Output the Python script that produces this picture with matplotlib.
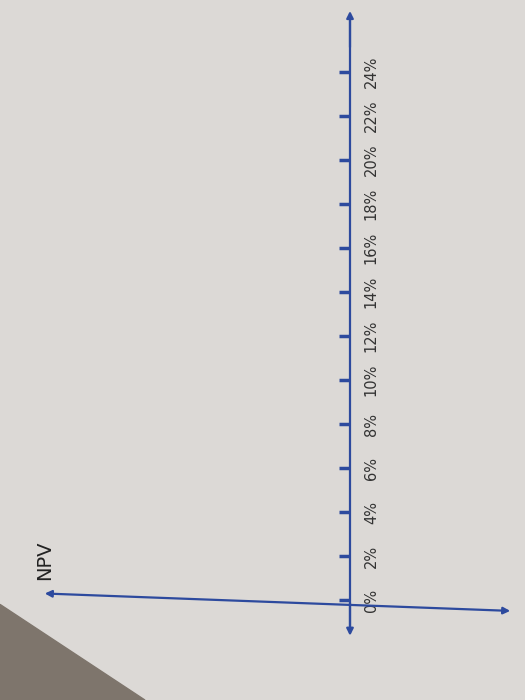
import matplotlib
matplotlib.use("Agg")
import matplotlib.pyplot as plt

rates = [0, 2, 4, 6, 8, 10, 12, 14, 16, 18, 20, 22, 24]
rate_labels = [f"{r}%" for r in rates]
axis_label = "NPV"

blue = "#2d4a9e"
fig = plt.figure(figsize=(5.25, 7), dpi=100)
fig.patch.set_facecolor("#dad7d4")
ax = fig.add_axes([0, 0, 1, 1])
ax.set_facecolor("#dcd9d6")
ax.set_xlim(350, -175)
ax.set_ylim(-100 / 22, 600 / 22)

# paper edge / table in lower-left corner
ax.fill([350, 350, 205, 260], [-4.55, -0.2, -4.55, -4.55], color="#7e756c", zorder=0)

for s in ["top", "bottom", "left"]:
    ax.spines[s].set_visible(False)
ax.spines["right"].set_position(("data", 0))
ax.spines["right"].set_bounds(-1.45, 26.3)
ax.spines["right"].set_color(blue)
ax.spines["right"].set_linewidth(1.6)
ax.yaxis.tick_right()
ax.set_yticks(rates)
ax.set_yticklabels(rate_labels, rotation=90, va="center", fontsize=10.5, color="#333333")
ax.tick_params(axis="y", direction="in", length=8, width=2.5, color=blue, pad=10)
ax.set_xticks([])

# arrows
ax.annotate("", xy=(0, 26.9), xytext=(0, 25), arrowprops=dict(arrowstyle="-|>", color=blue, lw=1.6, mutation_scale=10))
ax.annotate("", xy=(0, -1.75), xytext=(0, 0), arrowprops=dict(arrowstyle="-|>", color=blue, lw=1.6, mutation_scale=10))
ax.annotate("", xy=(308, 0.3), xytext=(-163, -0.5), arrowprops=dict(arrowstyle="<|-|>", color=blue, lw=1.6, mutation_scale=10))

ax.text(305, 1.8, axis_label, rotation=90, ha="center", va="center", fontsize=14, color="#222222")

fig.savefig("out.png", dpi=100, facecolor=fig.get_facecolor())
